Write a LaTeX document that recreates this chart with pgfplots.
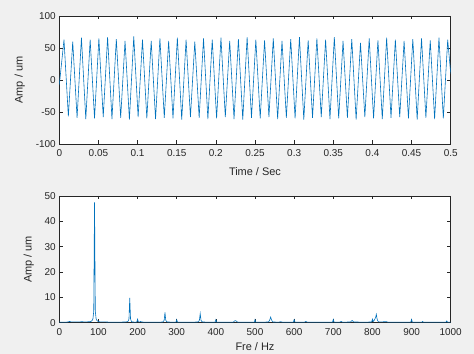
\documentclass[border=0pt]{standalone}
\usepackage{pgfplots}
\pgfplotsset{compat=1.18}
\usepackage{fontspec}
\setmainfont{Liberation Sans}
\definecolor{mblue}{rgb}{0,0.447,0.741}
\definecolor{mgray}{rgb}{0.15,0.15,0.15}
\definecolor{figbg}{RGB}{240,240,240}
\pgfplotsset{
  mstyle/.style={
    scale only axis, anchor=south west, width=391.4bp,
    axis background/.style={fill=white},
    axis line style={mgray, line width=0.5pt},
    tick style={mgray, line width=0.5pt},
    major tick length=3.5bp, tick align=inside,
    xtick pos=both, ytick pos=both,
    ticklabel style={font=\fontsize{10}{12}\selectfont, text=mgray},
    xticklabel style={yshift=-2bp},
    label style={font=\fontsize{11}{13}\selectfont, text=mgray},
    /pgf/number format/assume math mode=true,
    /pgf/number format/1000 sep={},
    scaled ticks=false,
    ylabel style={yshift=4bp},
  }
}
\begin{document}
\begin{tikzpicture}
\fill[figbg] (0,0) rectangle (474bp,354bp);
\path[use as bounding box] (0,0) rectangle (474bp,354bp);
\begin{axis}[mstyle, at={(59.3bp,210bp)}, height=128bp,
  xmin=0, xmax=0.5, ymin=-100, ymax=100,
  xtick={0,0.05,0.1,0.15,0.2,0.25,0.3,0.35,0.4,0.45,0.5},
  ytick={-100,-50,0,50,100},
  xticklabel style={/pgf/number format/fixed, /pgf/number format/precision=2},
  xlabel style={yshift=-4bp},
  xlabel={Time / Sec}, ylabel={Amp / um}]
\addplot[mblue, line width=0.6pt] coordinates {
(0,-8)
(0.00600,63) (0.01157,-57)
(0.01714,60) (0.02271,-59)
(0.02828,66) (0.03385,-61)
(0.03942,63) (0.04499,-60)
(0.05056,65) (0.05613,-58)
(0.06170,67) (0.06727,-61)
(0.07284,64) (0.07841,-59)
(0.08398,61) (0.08955,-62)
(0.09512,68) (0.10069,-58)
(0.10626,63) (0.11183,-60)
(0.11740,61) (0.12297,-61)
(0.12854,65) (0.13411,-59)
(0.13968,61) (0.14525,-60)
(0.15082,66) (0.15639,-62)
(0.16196,63) (0.16753,-58)
(0.17310,60) (0.17867,-59)
(0.18424,65) (0.18981,-61)
(0.19538,63) (0.20095,-60)
(0.20652,66) (0.21209,-58)
(0.21766,61) (0.22323,-61)
(0.22880,64) (0.23437,-62)
(0.23994,67) (0.24551,-59)
(0.25108,63) (0.25665,-60)
(0.26222,62) (0.26779,-58)
(0.27336,65) (0.27893,-61)
(0.28450,61) (0.29007,-59)
(0.29564,64) (0.30121,-60)
(0.30678,67) (0.31235,-62)
(0.31792,62) (0.32349,-59)
(0.32906,65) (0.33463,-58)
(0.34020,63) (0.34577,-61)
(0.35134,67) (0.35691,-60)
(0.36248,61) (0.36805,-59)
(0.37362,64) (0.37919,-62)
(0.38476,58) (0.39033,-58)
(0.39590,65) (0.40147,-60)
(0.40704,62) (0.41261,-61)
(0.41818,66) (0.42375,-59)
(0.42932,63) (0.43489,-58)
(0.44046,61) (0.44603,-60)
(0.45160,64) (0.45717,-62)
(0.46274,65) (0.46831,-59)
(0.47388,62) (0.47945,-61)
(0.48502,66) (0.49059,-60)
(0.49616,63)
(0.5,10)
};
\end{axis}
\begin{axis}[mstyle, at={(59.3bp,31.3bp)}, height=126.7bp,
  xmin=0, xmax=1000, ymin=0, ymax=50,
  xtick={0,100,200,300,400,500,600,700,800,900,1000},
  ytick={0,10,20,30,40,50},
  xlabel style={yshift=0bp},
  xlabel={Fre / Hz}, ylabel={Amp / um}]
\addplot[mblue, line width=0.6pt] coordinates {
(0,0.3) (4,0.2) (10,0.25) (16,0.2) (22,0.3) (26,0.5) (28,0.4) (32,0.3) (40,0.35) (50,0.3) (58,0.4) (64,0.3) (72,0.35) (78,0.4)
(82,0.6) (84,0.9) (86,1.6) (88,4.5) (90,47.5) (92,4.5) (94,1.6) (96,0.9) (98,0.6) (100,0.5) (104,0.3)
(112,0.35) (120,0.3) (130,0.2) (140,0.25) (150,0.2) (160,0.25) (170,0.3) (174,0.4)
(176,0.6) (178,1.5) (180,9.8) (182,1.5) (184,0.6) (186,0.3) (196,0.2) (198,0.3) (200,1.4) (202,0.3)
(206,0.3) (208,0.5) (210,0.3) (220,0.2) (240,0.2) (260,0.25) (264,0.3)
(266,0.5) (268,1.0) (270,4.1) (272,1.0) (274,0.5) (276,0.3) (290,0.2) (298,0.2) (300,1.2) (302,0.2)
(320,0.2) (340,0.2) (354,0.3) (356,0.5) (358,1.0) (360,3.6) (362,1.0) (364,0.5) (366,0.3)
(380,0.2) (398,0.2) (400,1.2) (402,0.2) (420,0.2) (444,0.2) (446,0.4) (448,0.7) (450,0.8) (452,0.7) (454,0.4) (456,0.2)
(480,0.2) (498,0.2) (500,1.2) (502,0.2) (520,0.2) (534,0.3) (536,0.6) (538,1.2) (540,2.2) (542,1.2) (544,0.6) (546,0.3)
(560,0.2) (566,0.4) (570,0.2) (598,0.2) (600,1.2) (602,0.2) (626,0.2) (630,0.5) (634,0.2) (660,0.2)
(698,0.2) (700,1.3) (702,0.2) (716,0.2) (720,0.5) (724,0.2) (744,0.3) (748,0.9) (752,0.3) (780,0.2)
(798,0.3) (800,1.4) (802,0.5) (804,0.8) (806,1.4) (808,2.0) (810,3.3) (812,1.4) (814,0.6) (816,0.3)
(836,0.4) (840,0.2) (880,0.2) (898,0.2) (900,1.3) (902,0.2) (926,0.2) (928,0.5) (930,0.2) (960,0.2)
(988,0.2) (990,0.7) (992,0.2) (1000,0.2)
};
\end{axis}
\end{tikzpicture}
\end{document}
